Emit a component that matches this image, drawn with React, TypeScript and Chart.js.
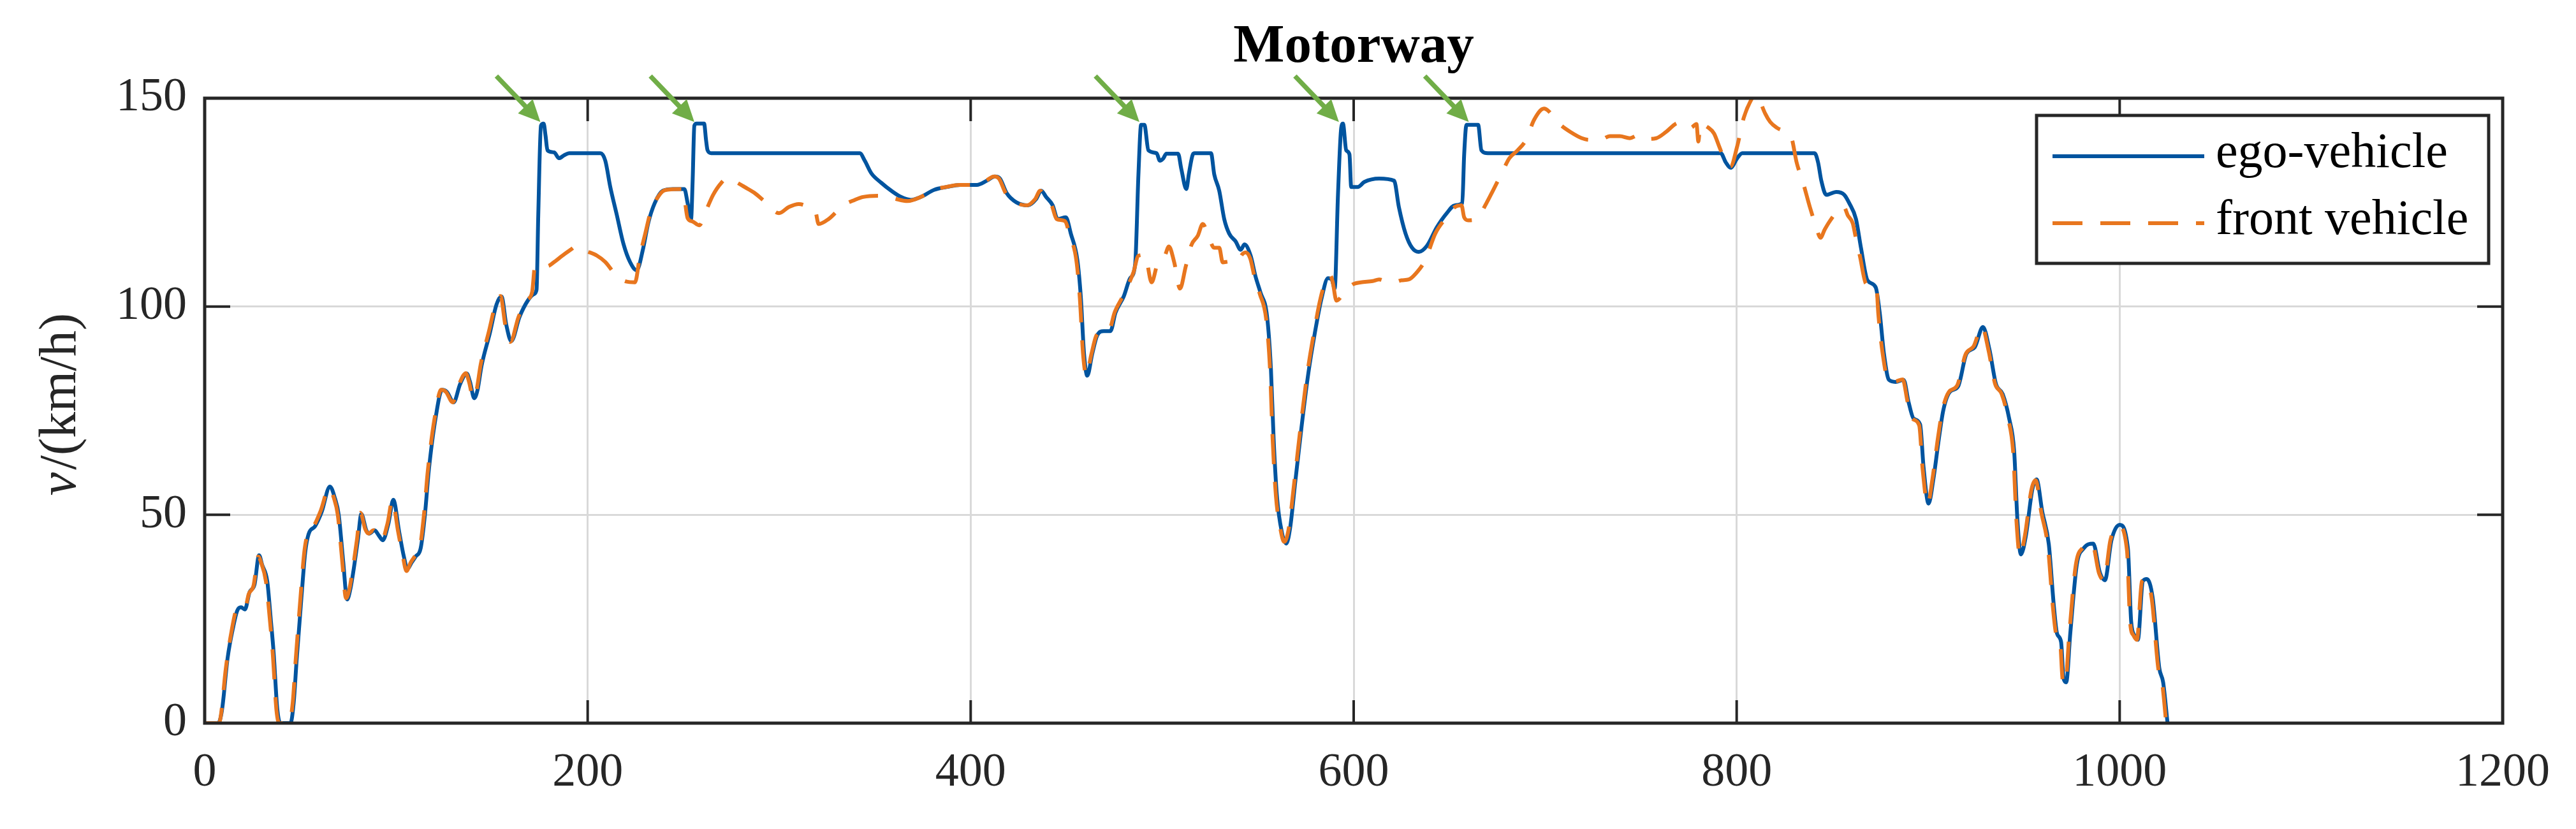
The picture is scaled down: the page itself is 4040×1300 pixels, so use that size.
import { useEffect, useRef } from 'react';
import { Chart, registerables } from 'chart.js';

Chart.register(...registerables);

// ---- data (time in s, speed in km/h) ----
const egoTime = [
  0, 7, 9, 12, 15, 17, 19, 21, 23.5, 26, 28.4, 30, 32.7, 34.5, 36, 37.9, 39.5, 44.8, 46.5, 48, 50.5, 52.5, 54.2, 57.7,
  61.1, 65.4, 68, 70, 72.3, 74.4, 76, 77.5, 80, 81.8, 84.4, 86, 88.7, 91, 93, 96, 98.5, 101.6, 104, 105.9, 108, 110.2,
  112.8, 115, 117, 120.5, 124, 126.5, 130, 133.4, 136.9, 138.5, 140.8, 142.5, 144.6, 148.9, 152.4, 155, 157.5, 160.1,
  164.4, 168.7, 172, 173.3, 174.2, 175.6, 177, 178, 179, 182.5, 185, 187.7, 190.3, 206.6, 209.2, 211.8, 215.2, 218.7,
  222.1, 225.6, 229, 231.6, 235, 239.3, 244.5, 250.5, 252.2, 254, 254.8, 255.7, 256.9, 260.8, 261.8, 262.6, 264.6,
  342.1, 344.7, 348.1, 353.3, 358.5, 363.6, 368.8, 374, 380.9, 387.7, 394.6, 403.2, 408.4, 412.7, 415.3, 418.7, 423.9,
  429.9, 434.2, 436.8, 439.4, 442.8, 445.4, 449.7, 452.3, 455.7, 457.5, 459.2, 460.9, 463.5, 466.1, 469.5, 473, 475.6,
  479.9, 483.3, 485.9, 487.6, 489, 490.7, 492.8, 497.1, 498.8, 500.5, 502.2, 508.3, 510, 512.6, 514, 516, 516.9, 525.5,
  527.2, 529.8, 532.4, 535, 538.4, 541, 543, 546.2, 548.7, 551.3, 554.8, 556.8, 558.2, 559.9, 562.5, 564.8, 566.8,
  569.4, 572.8, 576.3, 579.7, 583.2, 586.6, 588.5, 590.1, 591.8, 593.5, 594.4, 596.1, 597.8, 598.7, 602.1, 605.6, 613.3,
  621.1, 623.6, 627.1, 630.5, 634, 638.3, 643.4, 648.6, 652.9, 656.7, 657.7, 658.9, 665, 666.7, 670.1, 791.7, 794.3,
  796.8, 800.3, 802.9, 840.7, 842.5, 844.2, 846.8, 852, 856.2, 858.8, 862.3, 864.9, 868.3, 872.6, 874.7, 876.9, 879.5,
  883, 887.2, 889.8, 892.4, 895.8, 897.6, 900.2, 902.7, 905.3, 907.9, 911.3, 915.6, 920, 924.3, 928.6, 932, 935.4, 938.9,
  942.3, 944.9, 946.6, 948.4, 951, 954.4, 956.6, 959.6, 963, 965.6, 967.3, 969.4, 970.7, 972.1, 974.2, 977.6, 981.1,
  986.2, 989.7, 992.3, 995.7, 1000, 1004.3, 1006, 1007.8, 1009.5, 1012.1, 1014.1, 1017.2, 1020.7, 1022.7, 1025,
];
const egoSpeed = [
  0, 0, 3, 15.7, 23.3, 27, 27.8, 27.3, 31.5, 33.2, 40.3, 38, 34, 25, 17, 3.5, 0, 0, 5, 15, 30, 41, 45.3, 47.3,
  50.7, 56.8, 54, 50, 39, 29.7, 32, 36, 44, 50.2, 46.3, 45.5, 46.3, 45, 43.9, 48, 53.6, 45.8, 40, 37, 38.5, 40,
  42, 50, 60.5, 73, 80, 79.5, 77, 81.4, 83.9, 82, 78, 80, 85.8, 93.6, 100.5, 102.4, 95.6, 91.7,
  97.5, 101.4, 103, 104, 122, 143.4, 143.9, 141, 137.5, 137, 135.6, 136.3, 136.8, 136.8, 135, 128.7, 122, 115,
  110.7, 108.7, 114, 120, 124.8, 127.8, 128.2, 128.2, 124.8, 121, 130, 143.4, 143.9, 143.9, 140, 137.5, 136.8,
  136.8, 135, 132, 129.7, 127.8, 126.3, 125.6, 126.3, 128, 128.7, 129.2, 129.2, 130.2, 131.2, 130.7, 127.3, 125,
  124.3, 125.8, 127.8, 126.3, 124.3, 121, 121.4, 117.5, 111.2, 102.4, 88.7, 83.4, 88.7, 93.1, 94.1, 94.1, 98.5,
  102.4, 106.8, 110.2, 131.7, 143.6, 143.6, 137.5, 136.8, 135, 135.5, 136.7, 136.7, 133, 128.2, 132, 136.5, 136.8, 136.8,
  131.7, 127.8, 121, 117.5, 115.6, 113.6, 114.9, 112.2, 107.3, 103.4, 97.5, 84.9, 68.3, 54.6, 45.8, 43.1, 46.8,
  57.5, 71.2, 83.9, 93.6, 101.9, 106.8, 106.5, 104.4, 126.8, 142.9, 143.9, 137.5, 136.5, 128.7, 128.7, 129.9, 130.7,
  130.2, 123.9, 117.5, 114.1, 113.1, 114.6, 119, 122.4, 124.3, 124.8, 136.5, 143.6, 143.6, 137.5, 136.8, 136.8, 134.6,
  133.3, 135.6, 136.8, 136.8, 134.6, 130.2, 126.8, 127.5, 126.8, 124.8, 121, 114.1, 106.3, 104.6, 98.5, 88.7, 82.4,
  81.9, 82.4, 77, 73.1, 71.7, 61.4, 52.7, 58.5, 67.3, 75.1, 79.5, 80.8, 88.7, 90.2, 95.1, 89.7, 81.4, 79,
  73.1, 65.3, 48.8, 40.5, 44.9, 56.1, 58.5, 50.7, 42.9, 28.3, 21.5, 19.5, 10.7, 9.8, 21.5, 38, 41.9,
  43.1, 36.1, 34.3, 43.9, 47.6, 41.9, 24.4, 21, 20, 34.1, 34.6, 30.2, 13.2, 9.8, 0,
];

const frontTime = [
  0, 7.5, 8.5, 11, 14, 16.5, 19, 21, 23, 25.5, 28, 29.5, 32, 34, 35.5, 37.5, 39, 44, 46, 47.5, 50, 52, 53.8, 57.2,
  60.6, 65, 67.5, 69.5, 71.8, 73.8, 75.5, 77, 79.5, 81.3, 83.9, 85.5, 88.2, 90.5, 92.5, 95.5, 98, 101, 103.5, 105.4,
  107.5, 109.7, 112.3, 114.5, 116.5, 120, 123.5, 126, 129.5, 133, 136.4, 138, 140.3, 142, 144.1, 148.4, 151.9, 154.5,
  157, 159.6, 163.9, 168.2, 171, 172.5, 179, 182, 186.8, 191, 194.6, 198, 204.9, 209.2, 215.2, 220, 224.7, 227.3,
  229.8, 233.3, 235, 239, 241, 249.6, 252.2, 254.8, 258.3, 261.7, 265.5, 269.8, 273.2, 277, 281.9, 287, 292.2, 299.9,
  305.1, 310.3, 315, 318.9, 320.6, 325.8, 333.5, 339.5, 343.8, 351.6, 359.3, 367.1, 374, 380.5, 387.2, 394, 403, 408,
  412.2, 414.8, 418.2, 423.4, 429.4, 433.7, 436.3, 438.9, 442.3, 444.9, 449.2, 451.8, 455.2, 457, 458.7, 460.4, 463,
  465.6, 469, 472.5, 475.1, 479.4, 481.6, 485, 487.6, 491, 494.5, 497.4, 501.4, 503.5, 506.3, 509.3, 512.3, 515.3,
  518.6, 521.2, 524.1, 527.1, 529.8, 531.6, 535, 539.3, 541.9, 543.5, 546, 548.5, 551, 554.3, 556.3, 557.7, 559.4,
  562, 563.7, 566, 568.9, 572.3, 575.8, 579.2, 582.7, 586, 587.8, 589, 591, 595.2, 599.5, 603.8, 609.9, 613.3, 617,
  621, 625, 628.8, 632.2, 637.4, 642.6, 647.7, 652.9, 656.3, 657.7, 659.8, 664.1, 669.3, 672.7, 677, 681.3, 685.6,
  690, 694.2, 699.4, 702, 705, 708, 713.2, 719.2, 723, 728.7, 733.8, 739, 744.2, 748.5, 752.8, 758, 763.1, 768.3,
  771.7, 776, 779, 780, 781, 785, 788.2, 790.8, 793.4, 796.8, 800.3, 803.7, 808, 810.5, 812.5, 814.9, 817.5, 821,
  825.3, 828.7, 831.3, 834.7, 838.2, 841.6, 843.7, 846, 848.5, 853.7, 856, 858, 860.6, 862, 864.4, 867.5, 871, 873,
  874, 876.3, 879, 882.5, 886.7, 889.3, 891.9, 895.3, 897.1, 899.7, 902.2, 904.8, 907.4, 910.8, 915.1, 919.5, 923.8,
  928.1, 931.5, 934.9, 938.4, 941.8, 944.4, 946.1, 947.9, 950.5, 953.9, 956.1, 959.1, 962.5, 965.1, 966.8, 968.9,
  970.2, 971.6, 973.7, 977.1, 980.6, 985.7, 989.2, 991.8, 995.2, 999.5, 1003.8, 1005.5, 1007.3, 1009, 1011.6, 1013.6,
  1016.7, 1020.2, 1022.2, 1024.3,
];
const frontSpeed = [
  0, 0, 2, 13, 22, 27, 27.5, 27.5, 31, 33, 40, 38.5, 34, 25, 17, 3, 0, 0, 5, 15, 30, 41, 45.5, 47.5,
  51, 56.5, 54, 50, 39, 30, 32, 36, 44, 50.5, 46.5, 45.5, 46.3, 45, 44, 48, 53.5, 46, 40, 36.5,
  38.5, 40, 42, 50, 60.5, 73, 80, 79.5, 77, 81.5, 84, 82, 78, 80, 86, 94, 100.5, 102.5,
  95.5, 91.5, 97.5, 101.5, 103.5, 109.7, 109.7, 110.5, 112.2, 113.6, 114.6, 113.6, 112.2, 110.7, 107.3, 106, 105.8, 112.2,
  117, 123.4, 125, 127.6, 128, 128.2, 121.2, 120.4, 119.5, 122.9, 126.8, 129.7, 130.9, 130, 128.7, 127.3, 125.3, 122.4,
  123.9, 124.6, 124, 122.9, 119.8, 121, 124.3, 125.6, 126.3, 126.6, 126, 125.3, 126.3, 128, 128.7, 129.2, 129.2, 130.2,
  131.2, 130.7, 127.3, 125, 124.3, 125.8, 127.8, 126.3, 124.3, 121, 120.5, 117, 111, 102, 88.5, 83.5, 88.5,
  93, 94, 94.5, 98.5, 102.4, 104.5, 108.2, 112.2, 112.4, 105.8, 110, 112.2, 114.4, 110.6, 104.3, 109.6, 114.8,
  117, 119.8, 117, 114.1, 114.1, 110.6, 110.8, 110.7, 112.6, 113, 111.5, 106.5, 103, 97, 85, 68, 54.5,
  46, 43.5, 46.5, 57.5, 71.2, 84, 93.6, 102, 106.8, 107.4, 106, 101.4, 103.4, 105.3, 105.8, 106.1, 106.5, 106,
  105.8, 106.3, 106.5, 107.8, 111.2, 117.5, 121, 123.9, 124.3, 121.4, 120.7, 121, 124.8, 127.8, 131.7, 135.6, 137.5,
  140, 144.8, 147.5, 146.8, 145, 143.6, 141.9, 140.4, 140, 140, 140.9, 140.9, 140.4, 141.1, 140.2, 140.4, 141.9, 143.9,
  144.2, 142.9, 143.8, 139.6, 143.8, 143, 141.5, 138.5, 135.6, 133.6, 138.5, 145.3, 150, 151.5, 149, 146.3, 144.3, 142.9,
  141.9, 140.4, 134.6, 129.7, 123.9, 119, 116.5, 118.5, 120.4, 123.4, 123.9, 121.9, 120, 117, 112, 105.5, 104.8, 104.5,
  98, 88.5, 82.5, 82, 82.5, 77, 73, 71.5, 61, 52.5, 58.5, 67.5, 75, 79.5, 81, 88.5, 90.5,
  95.2, 89.5, 81.5, 79, 73, 65, 48.5, 40.2, 45, 56, 58.3, 50.5, 42.5, 28, 21.5, 19.5,
  10.5, 9.5, 21.5, 38, 42, 43, 36, 34.3, 44, 47.3, 41.5, 24, 21, 20, 34, 34.5,
  30, 13, 9.5, 0,
];

const xTickValues = [0, 200, 400, 600, 800, 1000, 1200];
const yTickValues = [0, 50, 100, 150];

// arrow tips (time, speed) pointing at the ego-vehicle speed peaks
const arrowTime = [175.3, 255.7, 488.1, 592.3, 660.1];
const arrowSpeed = [144.3, 144.3, 144.3, 144.3, 144.3];

const titleText = 'Motorway';
const seriesNames = ['ego-vehicle', 'front vehicle'];
const yTitleItalic = 'v';
const yTitleRest = '/(km/h)';

const EGO_COLOR = '#00549F';
const FRONT_COLOR = '#E8761E';
const AXIS_COLOR = '#262626';
const ARROW_COLOR = '#70AD47';
const FONT = '"Liberation Serif", "Times New Roman", serif';
const LINE_W = 6;

const decorPlugin = {
  id: 'decor',
  afterDraw(chart: any) {
    const ctx: CanvasRenderingContext2D = chart.ctx;
    const { left, right, top, bottom } = chart.chartArea;
    const xs = chart.scales.x;
    const ys = chart.scales.y;
    ctx.save();

    // axes box
    ctx.strokeStyle = AXIS_COLOR;
    ctx.lineWidth = 5;
    ctx.strokeRect(left, top, right - left, bottom - top);

    // inward ticks on all four sides
    ctx.lineWidth = 4;
    ctx.beginPath();
    for (const v of xTickValues) {
      const px = xs.getPixelForValue(v);
      ctx.moveTo(px, bottom);
      ctx.lineTo(px, bottom - 36);
      ctx.moveTo(px, top);
      ctx.lineTo(px, top + 36);
    }
    for (const v of yTickValues) {
      const py = ys.getPixelForValue(v);
      ctx.moveTo(left, py);
      ctx.lineTo(left + 40, py);
      ctx.moveTo(right, py);
      ctx.lineTo(right - 40, py);
    }
    ctx.stroke();

    // title
    ctx.fillStyle = '#000';
    ctx.font = `bold 85px ${FONT}`;
    ctx.textAlign = 'center';
    ctx.textBaseline = 'alphabetic';
    ctx.fillText(titleText, (left + right) / 2, 97);

    // y-axis title (italic v + regular rest), rotated
    ctx.save();
    ctx.translate(96, (top + bottom) / 2 - 10);
    ctx.rotate(-Math.PI / 2);
    ctx.fillStyle = AXIS_COLOR;
    ctx.textBaseline = 'middle';
    ctx.textAlign = 'left';
    ctx.font = `italic 82px ${FONT}`;
    const w1 = ctx.measureText(yTitleItalic).width;
    ctx.font = `82px ${FONT}`;
    const w2 = ctx.measureText(yTitleRest).width;
    const start = -(w1 + w2 + 4) / 2;
    ctx.font = `italic 82px ${FONT}`;
    ctx.fillText(yTitleItalic, start, 0);
    ctx.font = `82px ${FONT}`;
    ctx.fillText(yTitleRest, start + w1 + 4, 0);
    ctx.restore();

    // legend
    const lx = right - 731;
    const ly = top + 27;
    const lw = 709;
    const lh = 232;
    ctx.fillStyle = '#fff';
    ctx.fillRect(lx, ly, lw, lh);
    ctx.strokeStyle = AXIS_COLOR;
    ctx.lineWidth = 5;
    ctx.strokeRect(lx, ly, lw, lh);
    const rows = [ly + 64, ly + 169];
    const colors = [EGO_COLOR, FRONT_COLOR];
    const dashes = [[], [47, 28]];
    for (let i = 0; i < 2; i++) {
      ctx.beginPath();
      ctx.strokeStyle = colors[i];
      ctx.lineWidth = LINE_W;
      ctx.setLineDash(dashes[i]);
      ctx.moveTo(lx + 25, rows[i]);
      ctx.lineTo(lx + 263, rows[i]);
      ctx.stroke();
      ctx.setLineDash([]);
      ctx.fillStyle = '#000';
      ctx.font = `78px ${FONT}`;
      ctx.textAlign = 'left';
      ctx.textBaseline = 'alphabetic';
      ctx.fillText(seriesNames[i], lx + 281, rows[i] + 17);
    }

    // green arrows
    ctx.fillStyle = ARROW_COLOR;
    ctx.strokeStyle = ARROW_COLOR;
    for (let i = 0; i < arrowTime.length; i++) {
      const tx = xs.getPixelForValue(arrowTime[i]);
      const ty = ys.getPixelForValue(arrowSpeed[i]);
      const sx = tx - 69;
      const sy = ty - 72;
      const len = Math.hypot(tx - sx, ty - sy);
      const ux = (tx - sx) / len;
      const uy = (ty - sy) / len;
      const head = 34;
      const half = 16;
      const bx = tx - ux * head;
      const by = ty - uy * head;
      ctx.beginPath();
      ctx.lineWidth = 7.5;
      ctx.lineCap = 'butt';
      ctx.moveTo(sx, sy);
      ctx.lineTo(bx + ux * 2, by + uy * 2);
      ctx.stroke();
      ctx.beginPath();
      ctx.moveTo(tx, ty);
      ctx.lineTo(bx - uy * half, by + ux * half);
      ctx.lineTo(bx + uy * half, by - ux * half);
      ctx.closePath();
      ctx.fill();
    }

    ctx.restore();
  },
};

export default function App() {
  const canvasRef = useRef<HTMLCanvasElement | null>(null);

  useEffect(() => {
    document.body.style.margin = '0';
    const canvas = canvasRef.current;
    if (!canvas) return;

    const egoData = egoTime.map((t, i) => ({ x: t, y: egoSpeed[i] }));
    const frontData = frontTime.map((t, i) => ({ x: t, y: frontSpeed[i] }));

    const chart = new Chart(canvas, {
      type: 'line',
      data: {
        datasets: [
          {
            label: seriesNames[0],
            data: egoData,
            borderColor: EGO_COLOR,
            borderWidth: LINE_W,
            pointRadius: 0,
            cubicInterpolationMode: 'monotone',
            fill: false,
            clip: 0,
            order: 1,
          },
          {
            label: seriesNames[1],
            data: frontData,
            borderColor: FRONT_COLOR,
            borderWidth: LINE_W,
            borderDash: [47, 28],
            pointRadius: 0,
            cubicInterpolationMode: 'monotone',
            fill: false,
            clip: 0,
            order: 0,
          },
        ],
      },
      plugins: [decorPlugin],
      options: {
        animation: false,
        responsive: true,
        maintainAspectRatio: false,
        devicePixelRatio: 1,
        layout: { padding: { left: 0, right: 115, top: 154, bottom: 0 } },
        plugins: {
          legend: { display: false },
          title: { display: false },
          tooltip: { enabled: false },
        },
        scales: {
          x: {
            type: 'linear',
            min: 0,
            max: 1200,
            afterBuildTicks: (scale: any) => {
              scale.ticks = xTickValues.map((v) => ({ value: v }));
            },
            afterFit: (scale: any) => {
              scale.height = 166;
            },
            grid: { color: '#d9d9d9', lineWidth: 3, drawTicks: false },
            border: { display: false },
            ticks: {
              color: AXIS_COLOR,
              font: { family: FONT, size: 74 },
              padding: 34,
              maxRotation: 0,
              autoSkip: false,
              callback: (v: any) => String(v),
            },
          },
          y: {
            type: 'linear',
            min: 0,
            max: 150,
            afterBuildTicks: (scale: any) => {
              scale.ticks = yTickValues.map((v) => ({ value: v }));
            },
            afterFit: (scale: any) => {
              scale.width = 321;
            },
            grid: { color: '#d9d9d9', lineWidth: 3, drawTicks: false },
            border: { display: false },
            ticks: {
              color: AXIS_COLOR,
              font: { family: FONT, size: 74 },
              padding: 28,
              autoSkip: false,
              callback: (v: any) => String(v),
            },
          },
        },
      },
    } as any);

    return () => {
      chart.destroy();
    };
  }, []);

  return (
    <div style={{ width: '4040px', height: '1300px', position: 'relative', background: '#fff' }}>
      <canvas ref={canvasRef} />
    </div>
  );
}
